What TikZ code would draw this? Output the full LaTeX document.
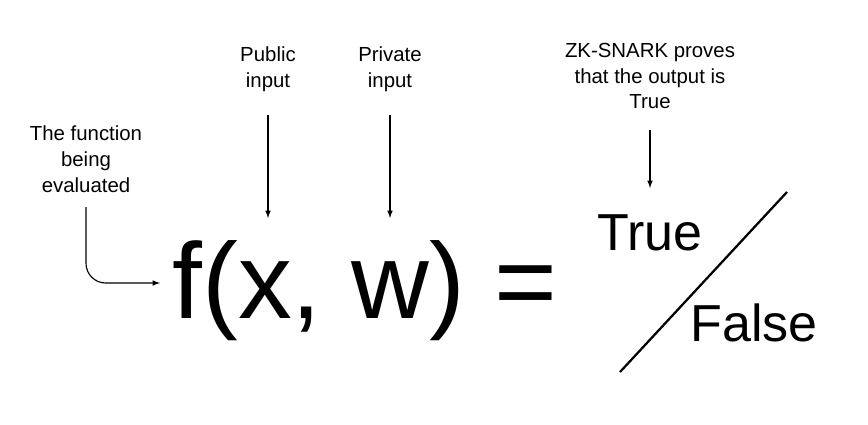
\documentclass[tikz,border=0pt]{standalone}
\usepackage{fontspec}
\setmainfont{Liberation Sans}
\begin{document}
\begin{tikzpicture}[x=0.025cm,y=-0.025cm,
  lbl/.style={align=center,font=\fontsize{14.5pt}{18.4pt}\selectfont,inner sep=0pt},
  arr/.style={-latex,thick}]
\useasboundingbox (0,0) rectangle (868,424);
\node[lbl] (fn) at (86,159) {The function\\being\\evaluated};
\node[lbl] (pub) at (268,69) {Public\\input};
\node[lbl] (priv) at (390,69) {Private\\input};
\node[lbl] (zk) at (650,76) {ZK-SNARK proves\\that the output is\\True};
\node[anchor=base west,inner sep=0pt,font=\fontsize{76.5pt}{80pt}\selectfont] (eq) at (172,318) {f(x, w) =};
\node[anchor=base west,inner sep=0pt,font=\fontsize{37pt}{40pt}\selectfont] (tr) at (597,250) {True};
\node[anchor=base west,inner sep=0pt,font=\fontsize{37pt}{40pt}\selectfont] (fa) at (690,341) {False};
\coordinate (fe) at (160,283);
\coordinate (pe) at (268,218);
\coordinate (qe) at (390,218);
\coordinate (ze) at (650,188);
\coordinate (s1) at (620,372);
\coordinate (s2) at (787,192);
\draw[arr,rounded corners=14] (86,207) -- (86,283) -- (fe);
\draw[arr] (268,115) -- (pe);
\draw[arr] (390,115) -- (qe);
\draw[arr] (650,130) -- (ze);
\draw[line width=1.6pt] (s1) -- (s2);
\end{tikzpicture}
\end{document}
